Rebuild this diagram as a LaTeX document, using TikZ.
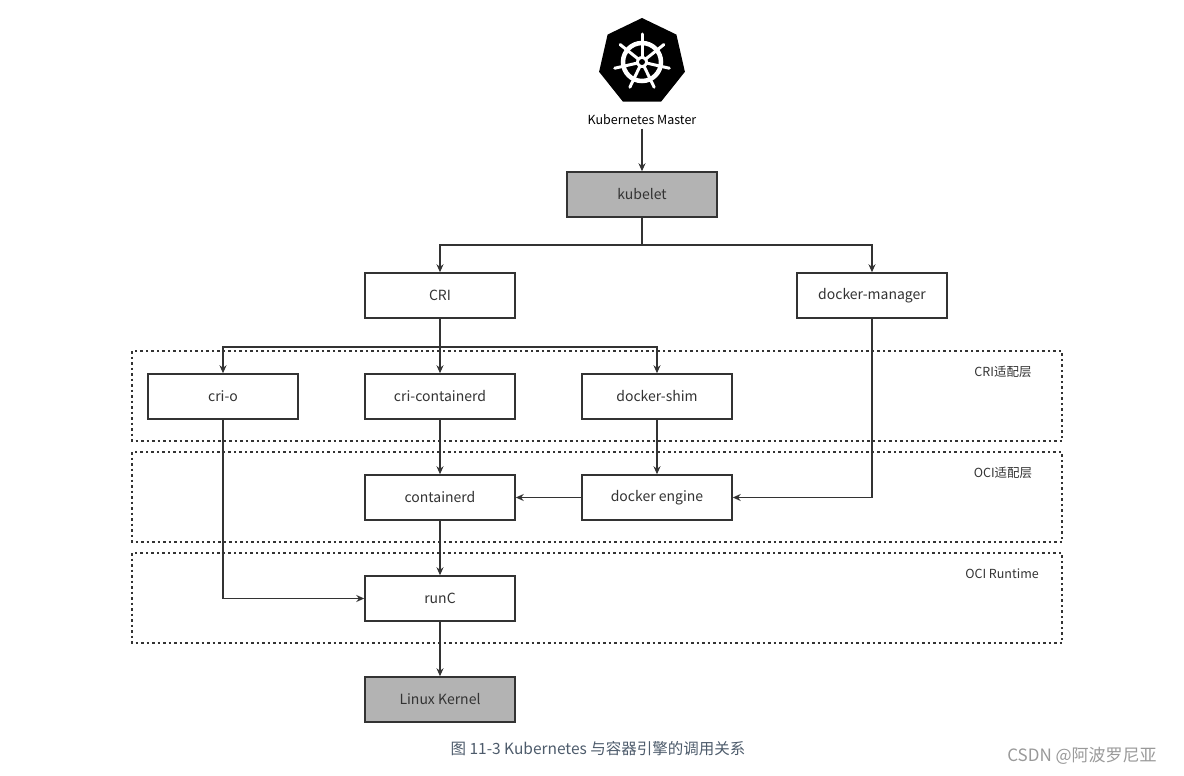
\documentclass[tikz,border=0pt]{standalone}
\usepackage{fontspec}
\setmainfont{Noto Sans CJK SC}
\usetikzlibrary{arrows.meta,positioning,shapes.geometric}
\definecolor{linegray}{HTML}{333333}
\definecolor{boxgray}{HTML}{B3B3B3}
\definecolor{captionblue}{HTML}{4D5B6B}
\begin{document}
\begin{tikzpicture}[x=1pt,y=-1pt,
      >={Stealth[length=8pt,width=7pt]},
      box/.style={
        draw=linegray,
        line width=1.5pt,
        minimum width=150pt,
        minimum height=45pt,
        fill=white,
        text=linegray,
        font=\fontsize{14}{16}\selectfont
      },
      dark/.style={box, fill=boxgray},
      layer/.style={
        draw=linegray,
        line width=1.4pt,
        dash pattern=on 2.5pt off 3pt
      },
      layerlabel/.style={
        text=linegray,
        font=\fontsize{12.5}{14}\selectfont
      },
      call/.style={
        ->,
        draw=linegray,
        line width=1.7pt
      },
    ]
    \useasboundingbox (0,0) rectangle (1184,776);

    % layers
    \draw [layer] (132,351) rectangle (1062,441);
    \draw [layer] (132,452) rectangle (1062,542);
    \draw [layer] (132,553) rectangle (1062,643);
    \node [layerlabel] (crilayer) at (1003,372) {CRI适配层};
    \node [layerlabel] (ocilayer) at (1003,473) {OCI适配层};
    \node [layerlabel] (ociruntime) at (1002,574) {OCI Runtime};

    % master logo
    \node [regular polygon, regular polygon sides=7, fill=black,
      minimum size=88pt, inner sep=0pt] (logo) at (642,62) {};
    \draw [white, line width=4.5pt] (logo.center) circle [radius=19];
    \foreach \a in {0,...,6} {
      \draw [white, line width=3pt, line cap=round]
        (logo.center) -- ++(90+\a*360/7:-28);
    }
    \fill [white] (logo.center) circle [radius=6];
    \fill [black] (logo.center) circle [radius=3];
    \node [text=black, font=\fontsize{12.5}{14}\selectfont]
      (master) at (642,120) {Kubernetes Master};

    % components
    \node [dark] (kubelet) at (642,194.5) {kubelet};
    \node [box] (cri) at (440,295.5) {CRI};
    \node [box] (dockermgr) at (872,295.5) {docker-manager};
    \node [box] (crio) at (223,396.5) {cri-o};
    \node [box] (cricontainerd) at (440,396.5) {cri-containerd};
    \node [box] (dockershim) at (657,396.5) {docker-shim};
    \node [box] (containerd) at (440,497.5) {containerd};
    \node [box] (dockerengine) at (657,497.5) {docker engine};
    \node [box] (runc) at (440,598.5) {runC};
    \node [dark] (kernel) at (440,699.5) {Linux Kernel};

    \coordinate (kubesplit) at (642,245);
    \coordinate (crisplit) at (440,347);

    \draw [call] (master.south) -- (kubelet);
    \draw [call] (kubelet) -- (kubesplit) -| (cri);
    \draw [call] (kubesplit) -| (dockermgr);
    \draw [call] (cri) -- (crisplit) -| (crio);
    \draw [call] (crisplit) -- (cricontainerd);
    \draw [call] (crisplit) -| (dockershim);
    \draw [call] (dockermgr) |- (dockerengine);
    \draw [call] (dockershim) -- (dockerengine);
    \draw [call] (dockerengine) -- (containerd);
    \draw [call] (cricontainerd) -- (containerd);
    \draw [call] (containerd) -- (runc);
    \draw [call] (crio) |- (runc);
    \draw [call] (runc) -- (kernel);

    \node [text=captionblue, font=\fontsize{15.5}{18}\selectfont]
      (caption) at (598,749) {图 11-3 Kubernetes 与容器引擎的调用关系};
    \node [text=black!40, font=\fontsize{17}{19}\selectfont]
      (mark) at (1082,756) {CSDN @阿波罗尼亚};
\end{tikzpicture}
\end{document}
